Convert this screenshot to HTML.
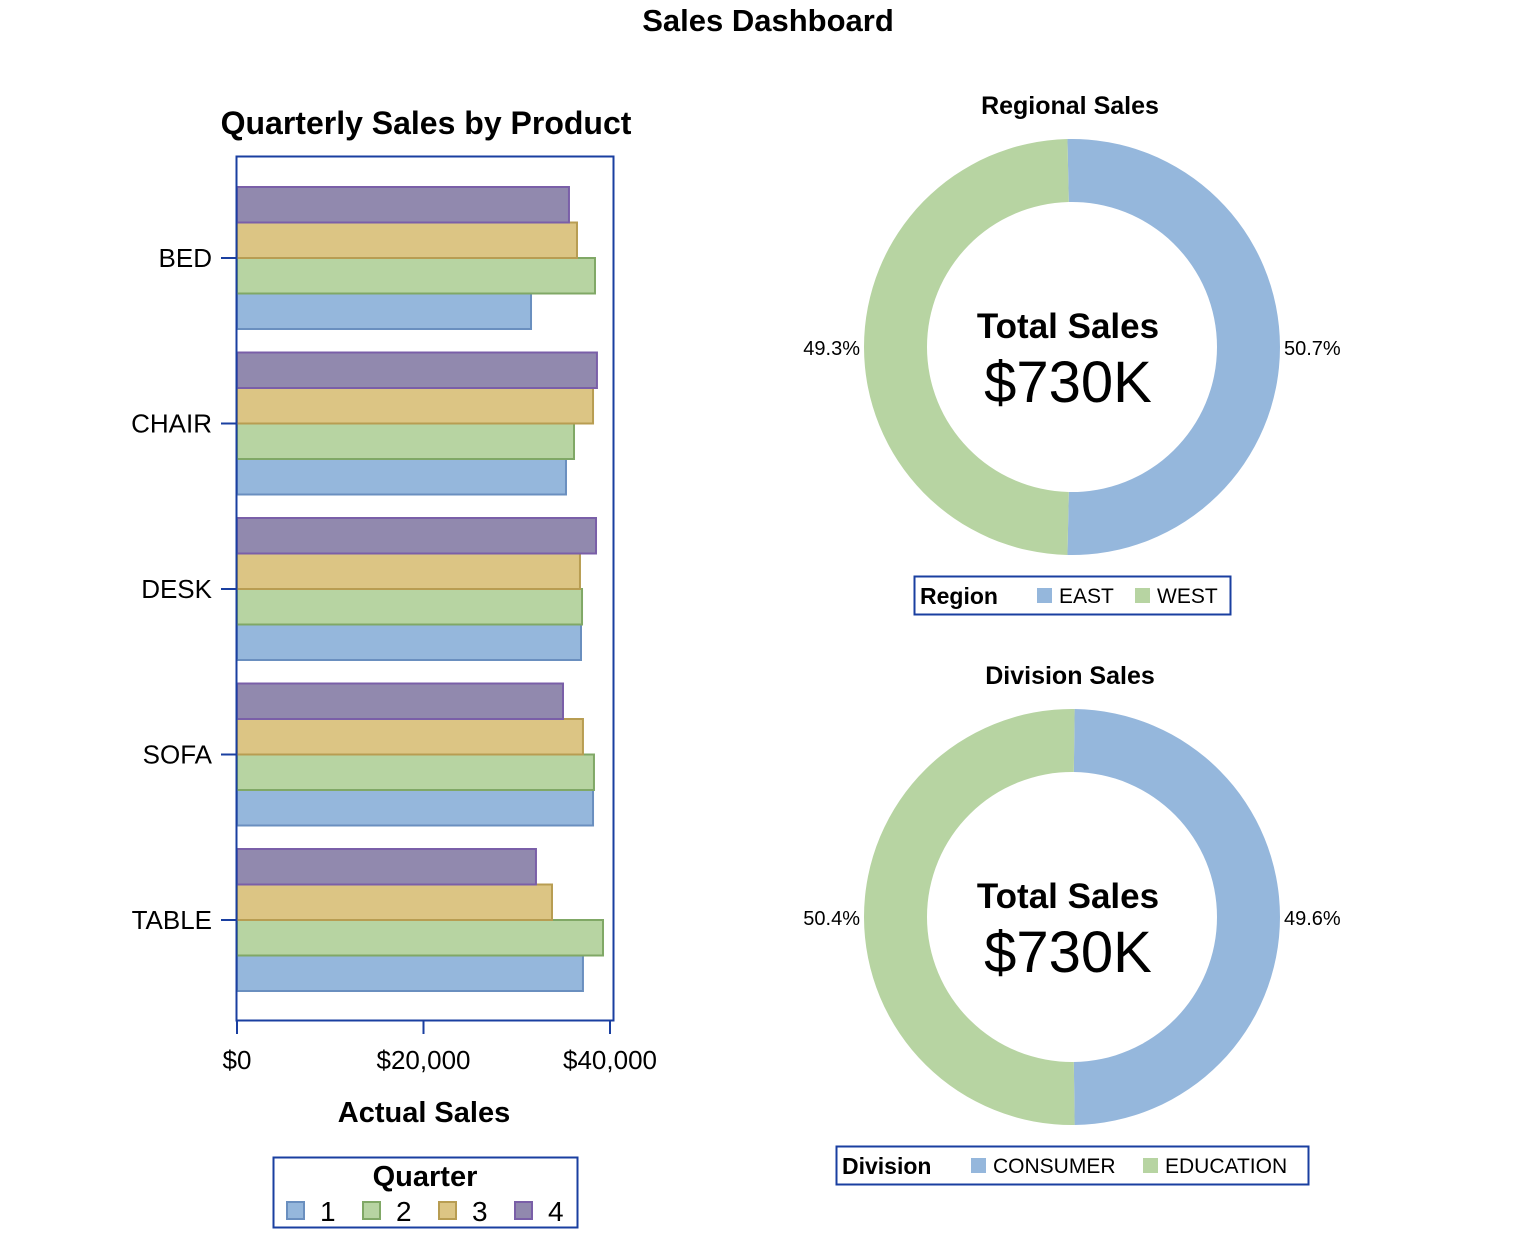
<!DOCTYPE html>
<html><head><meta charset="utf-8"><style>
body{margin:0;background:#fff;}
svg{display:block;font-family:"Liberation Sans",sans-serif;}
</style></head><body>
<svg id="s" width="1536" height="1254" xmlns="http://www.w3.org/2000/svg">
<text x="768" y="31" text-anchor="middle" font-size="31" font-weight="bold">Sales Dashboard</text>
<text x="426" y="134" text-anchor="middle" font-size="32" font-weight="bold">Quarterly Sales by Product</text>
<g id="bars"></g>
<rect x="236.5" y="156.5" width="377" height="864" fill="none" stroke="#1a3fa0" stroke-width="2"/>
<text x="424" y="1122" text-anchor="middle" font-size="29" font-weight="bold">Actual Sales</text>
<g>
<rect x="273.5" y="1157.5" width="304" height="70" fill="none" stroke="#1a3fa0" stroke-width="2"/>
<text x="425" y="1186" text-anchor="middle" font-size="29" font-weight="bold">Quarter</text>
<g id="qleg"></g>
</g>
<g id="donuts"></g>
<script>
const categories=["BED","CHAIR","DESK","SOFA","TABLE"];
const quarters=["1","2","3","4"];
const q1=[31530,35280,36890,38180,37100];
const q2=[38390,36140,37000,38280,39250];
const q3=[36460,38180,36780,37100,33780];
const q4=[35600,38600,38500,34960,32060];
const xTicks=[0,20000,40000];
const xTickLabels=["$0","$20,000","$40,000"];
const regionLabels=["EAST","WEST"];
const regionValues=[50.7,49.3];
const divisionLabels=["CONSUMER","EDUCATION"];
const divisionValues=[49.6,50.4];
const totalLabel="$730K";

const NS="http://www.w3.org/2000/svg";
function mk(tag,attrs,parent){const e=document.createElementNS(NS,tag);for(const k in attrs)e.setAttribute(k,attrs[k]);parent.appendChild(e);return e;}
const fills=["#95b7dc","#b7d4a2","#dcc584","#9189ae"];
const strokes=["#6a8fbf","#80a866","#b89d52","#7a5fa8"];
const series=[q1,q2,q3,q4];
const xS=v=>237+v*(186.5/20000);
const yC=i=>258+i*165.5;
const bw=35.5;
const g=document.getElementById('bars');
categories.forEach((c,i)=>{
  const cy=yC(i);
  for(let q=0;q<4;q++){
    const r=mk('rect',{x:xS(0),y:cy+(1-q)*bw,width:xS(series[q][i])-xS(0),height:bw,fill:fills[q],stroke:strokes[q],'stroke-width':2},g);
    
    
  }
  const t=mk('line',{x1:221,x2:236,y1:cy,y2:cy,stroke:'#1a3fa0','stroke-width':2},g);
  
  
  const l=mk('text',{x:212,y:cy+9,'text-anchor':'end','font-size':26},g);
  l.textContent=c;
  
  
});
xTicks.forEach((v,i)=>{
  const x=xS(v);
  const t=mk('line',{x1:x,x2:x,y1:1020,y2:1034,stroke:'#1a3fa0','stroke-width':2},g);
  
  
  const l=mk('text',{x:x,y:1069,'text-anchor':'middle','font-size':26},g);
  l.textContent=xTickLabels[i];
  
  
});
const ql=document.getElementById('qleg');
quarters.forEach((q,i)=>{
  const x=287+i*76;
  const r=mk('rect',{x:x,y:1202,width:17,height:17,fill:fills[i],stroke:strokes[i],'stroke-width':2},ql);
  
  
  const t=mk('text',{x:x+33,y:1221,'font-size':28},ql);
  t.textContent=q;
  
  
});
const dg=document.getElementById('donuts');
function donut(cx,cy,title,labels,vals,legTitle,box){
  const grp=mk('g',{},dg);
  
  
  const tt=mk('text',{x:cx-2,y:cy-233,'text-anchor':'middle','font-size':25,'font-weight':'bold'},grp);
  tt.textContent=title;
  
  
  const R=208,r=145,tot=vals.reduce((a,b)=>a+b,0);
  let a0=-vals[0]/tot*Math.PI;
  const cols=["#95b7dc","#b7d4a2"];
  vals.forEach((v,i)=>{
    const a1=a0+v/tot*2*Math.PI;
    const large=(a1-a0)>Math.PI?1:0;
    const p=`M${cx+R*Math.cos(a0)},${cy+R*Math.sin(a0)} A${R},${R} 0 ${large} 1 ${cx+R*Math.cos(a1)},${cy+R*Math.sin(a1)} L${cx+r*Math.cos(a1)},${cy+r*Math.sin(a1)} A${r},${r} 0 ${large} 0 ${cx+r*Math.cos(a0)},${cy+r*Math.sin(a0)} Z`;
    const s=mk('path',{d:p,fill:cols[i]},grp);
    
    
    const am=(a0+a1)/2;
    const lx=cx+(R+4)*Math.cos(am), ly=cy+(R+4)*Math.sin(am);
    const lt=mk('text',{x:lx,y:ly+8,'text-anchor':Math.cos(am)>0?'start':'end','font-size':20},grp);
    lt.textContent=v.toFixed(1)+'%';
    
    
    a0=a1;
  });
  const c1=mk('text',{x:cx-4,y:cy-9,'text-anchor':'middle','font-size':35,'font-weight':'bold'},grp);
  c1.textContent='Total Sales';
  
  
  const c2=mk('text',{x:cx-4,y:cy+55,'text-anchor':'middle','font-size':58},grp);
  c2.textContent=totalLabel;
  
  
  const lb=mk('rect',{x:box[0]+.5,y:cy+229.5,width:box[1],height:38,fill:'none',stroke:'#1a3fa0','stroke-width':2},grp);
  
  
  const lt=mk('text',{x:box[0]+6,y:cy+257,'font-size':23,'font-weight':'bold'},grp);
  lt.textContent=legTitle;
  
  
  labels.forEach((l,i)=>{
    const x=box[2][i];
    const sw=mk('rect',{x:x,y:cy+241,width:15,height:15,fill:cols[i]},grp);
    
    
    const t=mk('text',{x:x+22,y:cy+256,'font-size':21},grp);
    t.textContent=l;
    
    
  });
}
donut(1072,347,'Regional Sales',regionLabels,regionValues,'Region',[914,316,[1037,1135]]);
donut(1072,917,'Division Sales',divisionLabels,divisionValues,'Division',[836,472,[971,1143]]);
</script>
</svg>
</body></html>
